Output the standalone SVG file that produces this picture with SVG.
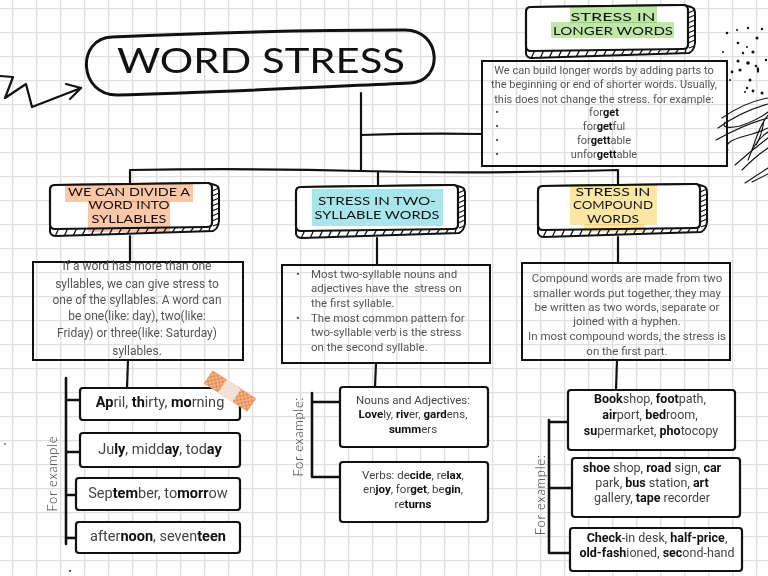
<svg xmlns="http://www.w3.org/2000/svg" width="768" height="576" viewBox="0 0 768 576">
<defs>
<pattern id="grid" x="12" y="8" width="24" height="24" patternUnits="userSpaceOnUse">
<path d="M0.7,0 V24 M0,0.7 H24" stroke="#e0e0e0" stroke-width="1.3" fill="none"/>
</pattern>
<pattern id="check" width="5" height="5" patternUnits="userSpaceOnUse">
<rect width="5" height="5" fill="#e58c55"/>
<rect width="2.5" height="2.5" fill="#f3b98f"/>
<rect x="2.5" y="2.5" width="2.5" height="2.5" fill="#f3b98f"/>
</pattern>
<g id="slab">
<path d="M8,2 L161,0 L168,2 Q172,3 172,8 L172,38 Q171,46 166,48 L9,53 Q4,53 3,49 L3,7 Q3,2 8,2 Z" fill="#fff" stroke="#111" stroke-width="2" stroke-linejoin="round"/>
<path d="M3,7 Q3,2 8,2 L160,0 Q165,0 165,5 L165,40 Q165,44 160,44 L8,46 Q3,46 3,41 Z" fill="#fff" stroke="#111" stroke-width="2.2" stroke-linejoin="round"/>
<path d="M11.5,46 L8.5,52.6 M20.5,45.8 L17.5,52.4 M29.5,45.7 L26.5,52.1 M38.5,45.6 L35.5,51.9 M47.5,45.5 L44.5,51.6 M56.5,45.3 L53.5,51.4 M65.5,45.2 L62.5,51.1 M74.5,45.1 L71.5,50.8 M83.5,45 L80.5,50.6 M92.5,44.9 L89.5,50.3 M101.5,44.8 L98.5,50 M110.5,44.7 L107.5,49.8 M119.5,44.6 L116.5,49.5 M128.5,44.5 L125.5,49.2 M137.5,44.4 L134.5,49 M146.5,44.3 L143.5,48.7 M155.5,44.2 L152.5,48.4 M163,44 L162,48 M165,8 L172,5 M165,13 L172,10 M165,18 L172,15 M165,23 L172,20 M165,28 L172,25 M165,33 L172,30 M165,38 L172,35 M166,43 L171,41" stroke="#111" stroke-width="1.3" fill="none"/>
</g>
</defs>
<style>
.ln{fill:none;stroke:#111;stroke-width:2.2;stroke-linecap:round;stroke-linejoin:round}
.br{fill:none;stroke:#111;stroke-width:2.6;stroke-linecap:round;stroke-linejoin:round}
.box{fill:#fff;stroke:#111;stroke-width:2.2}
.dbox{fill:none;stroke:#111;stroke-width:2}
.hl{mix-blend-mode:multiply}
.hd{font-family:Lato,"DejaVu Sans",sans-serif;font-size:11.5px;font-weight:400;fill:#111;text-anchor:middle}
.tx{font-family:Roboto,"Liberation Sans",sans-serif;fill:#555;text-anchor:middle}
.ex{font-family:Roboto,"Liberation Sans",sans-serif;fill:#444;text-anchor:middle}
.b{font-weight:700;fill:#111}
.fe{font-family:Lato,"DejaVu Sans",sans-serif;font-weight:300;font-size:13px;fill:#333;text-anchor:middle}
</style>
<rect width="768" height="576" fill="#fff"/>
<rect width="768" height="576" fill="url(#grid)"/>

<g id="decor" fill="#111" stroke="none">
<circle cx="727" cy="33" r="1.3"/><circle cx="737" cy="30" r="1"/><circle cx="748" cy="28" r="1.2"/><circle cx="762" cy="29" r="1.2"/>
<circle cx="723" cy="52" r="1"/><circle cx="738" cy="43" r="1.3"/><circle cx="747" cy="47" r="1"/><circle cx="757" cy="38" r="1.5"/>
<circle cx="743" cy="53" r="1.2"/><circle cx="753" cy="52" r="1.6"/><circle cx="738" cy="61" r="1.5"/><circle cx="748" cy="63" r="1.8"/>
<circle cx="756" cy="66" r="1.3"/><circle cx="732" cy="72" r="1.4"/><circle cx="740" cy="70" r="1.6"/><ellipse cx="758" cy="70" rx="1.2" ry="3"/>
<circle cx="730" cy="80" r="1"/><circle cx="750" cy="80" r="1.5"/><circle cx="747" cy="88" r="1.2"/><circle cx="753" cy="91" r="1.4"/>
<circle cx="762" cy="93" r="1.5"/><circle cx="745" cy="92" r="1"/><circle cx="766" cy="60" r="1.2"/>
<circle cx="70" cy="571" r="1"/><circle cx="5" cy="444" r="0.8"/>
</g>
<g id="scribble" fill="none" stroke="#111" stroke-width="1.1" stroke-linecap="round">
<path d="M722,118 Q745,102 768,98"/>
<path d="M718,128 Q740,112 768,104"/>
<path d="M725,122 Q720,130 740,126 Q758,120 768,112"/>
<path d="M716,140 Q745,124 768,118"/>
<path d="M728,150 Q722,142 745,136 Q760,132 768,128"/>
<path d="M735,165 Q752,150 768,138"/>
<path d="M742,170 Q756,156 768,148"/>
<path d="M748,160 Q755,140 768,132"/>
<path d="M752,150 Q760,125 768,115 M756,145 Q762,135 764,120"/>
<path d="M745,183 L768,168 M752,182 L768,174"/>
</g>

<g id="title">
<polyline class="ln" stroke-width="1.8" points="0,76 13,77 5,98 26,84 32,107 81,88"/>
<polyline class="ln" stroke-width="1.8" points="66,84 81,88 70,99"/>
<path d="M112,37 C200,33 320,30 405,30 C442,30 444,82 410,83 C320,87 200,93 118,95 C78,96 76,38 112,37 Z" fill="none" stroke="#111" stroke-width="3"/>
<text x="117" y="73" font-family="Lato,'DejaVu Sans',sans-serif" font-size="34" fill="#111" textLength="288" lengthAdjust="spacingAndGlyphs">WORD STRESS</text>
</g>

<g id="connectors">
<path class="ln" stroke-width="4" d="M361,93 L361,171"/>
<path class="ln" d="M361,135 Q420,133 482,134"/>
<path class="ln" d="M130,184 L130,170 Q250,168 361,171 Q480,174 618,170 L618,184"/>
<path class="ln" d="M378,172 L378,186"/>
<path class="ln" d="M130,236 L130,262 M128,360 L127,388"/>
<path class="ln" d="M377,238 L377,265 M376,363 L375,387"/>
<path class="ln" d="M618,237 L618,263 M617,360 L616,390"/>
<path class="br" d="M66,378 L66,544 M66,400 H80 M66,452 H80 M66,495 H76 M66,538 H76"/>
<path class="br" d="M312,393 V477 M312,402 H340 M312,477 H340"/>
<path class="br" d="M549,420 V553 M549,422 H568 M549,488 H572 M549,553 H570"/>
</g>

<g id="longer-head">
<use href="#slab" transform="translate(523,5)"/>
<rect class="hl" x="570" y="6" width="87" height="17" fill="#bfe8a8"/>
<rect class="hl" x="551" y="22" width="123" height="16" fill="#bfe8a8"/>
<text class="hd" x="613" y="21" textLength="85" lengthAdjust="spacingAndGlyphs">STRESS IN</text>
<text class="hd" x="613" y="35" textLength="120" lengthAdjust="spacingAndGlyphs">LONGER WORDS</text>
</g>
<g id="longer-text">
<rect class="dbox" x="482" y="61" width="245" height="105"/>
<g class="tx" font-size="11">
<text x="604" y="74">We can build longer words by adding parts to</text>
<text x="604" y="88">the beginning or end of shorter words. Usually,</text>
<text x="604" y="103">this does not change the stress. for example:</text>
<text x="604" y="116">for<tspan class="b">get</tspan></text>
<text x="604" y="130">for<tspan class="b">get</tspan>ful</text>
<text x="604" y="144">for<tspan class="b">gett</tspan>able</text>
<text x="604" y="158">unfor<tspan class="b">gett</tspan>able</text>
<text x="497" y="116">•</text><text x="497" y="130">•</text><text x="497" y="144">•</text><text x="497" y="158">•</text>
</g>
</g>

<g id="divide-head">
<use href="#slab" transform="translate(47,183)"/>
<rect class="hl" x="65" y="184" width="128" height="18" fill="#fbc7a6"/>
<rect class="hl" x="88" y="201" width="82" height="31" fill="#fbc7a6"/>
<text class="hd" x="129" y="195.5" textLength="122" lengthAdjust="spacingAndGlyphs">WE CAN DIVIDE A</text>
<text class="hd" x="129" y="209" textLength="81" lengthAdjust="spacingAndGlyphs">WORD INTO</text>
<text class="hd" x="129" y="222.5" textLength="75" lengthAdjust="spacingAndGlyphs">SYLLABLES</text>
</g>
<g id="divide-text">
<rect class="dbox" x="33" y="262" width="210" height="98"/>
<g class="tx" font-size="12">
<text x="137" y="270">If a word has more than one</text>
<text x="137" y="288">syllables, we can give stress to</text>
<text x="137" y="304">one of the syllables. A word can</text>
<text x="137" y="320">be one(like: day), two(like:</text>
<text x="137" y="337">Friday) or three(like: Saturday)</text>
<text x="137" y="355">syllables.</text>
</g>
</g>
<g id="divide-examples">
<text class="fe" transform="translate(57,474) rotate(-90)" textLength="75">For example</text>
<rect class="box" x="80" y="388" width="160" height="32" rx="3"/>
<rect class="box" x="80" y="433" width="160" height="34" rx="3"/>
<rect class="box" x="76" y="478" width="164" height="32" rx="3"/>
<rect class="box" x="76" y="522" width="164" height="31" rx="3"/>
<g class="ex" font-size="14.5">
<text x="160" y="407"><tspan class="b">Ap</tspan>ril, <tspan class="b">th</tspan>irty, <tspan class="b">mo</tspan>rning</text>
<text x="160" y="454">Ju<tspan class="b">ly</tspan>, midd<tspan class="b">ay</tspan>, tod<tspan class="b">ay</tspan></text>
<text x="158" y="498">Sep<tspan class="b">tem</tspan>ber, to<tspan class="b">morr</tspan>ow</text>
<text x="158" y="541">after<tspan class="b">noon</tspan>, seven<tspan class="b">teen</tspan></text>
</g>
<g transform="translate(230,391) rotate(33)">
<rect x="-26" y="-8" width="52" height="16" fill="url(#check)"/>
<rect x="-9" y="-8" width="17" height="16" fill="#f2f2f2" opacity="0.8"/>
</g>
</g>

<g id="two-head">
<use href="#slab" transform="translate(293,185)"/>
<rect class="hl" x="312" y="189" width="131" height="37" fill="#a8e6ec"/>
<text class="hd" x="377" y="204.5" textLength="118" lengthAdjust="spacingAndGlyphs">STRESS IN TWO-</text>
<text class="hd" x="377" y="218.5" textLength="125" lengthAdjust="spacingAndGlyphs">SYLLABLE WORDS</text>
</g>
<g id="two-text">
<rect class="dbox" x="282" y="265" width="208" height="98"/>
<g class="tx" font-size="11.5" style="text-anchor:start">
<text x="296" y="278">•</text><text x="296" y="322">•</text>
<text x="311" y="278">Most two-syllable nouns and</text>
<text x="311" y="292" xml:space="preserve">adjectives have the  stress on</text>
<text x="311" y="307">the first syllable.</text>
<text x="311" y="322">The most common pattern for</text>
<text x="311" y="336">two-syllable verb is the stress</text>
<text x="311" y="351">on the second syllable.</text>
</g>
</g>
<g id="two-examples">
<text class="fe" transform="translate(303,437) rotate(-90)" textLength="79">For example:</text>
<rect class="box" x="340" y="387" width="148" height="60" rx="3"/>
<rect class="box" x="340" y="462" width="148" height="60" rx="3"/>
<g class="ex" font-size="11.5">
<text x="413" y="404">Nouns and Adjectives:</text>
<text x="413" y="418"><tspan class="b">Love</tspan>ly, <tspan class="b">riv</tspan>er, <tspan class="b">gard</tspan>ens,</text>
<text x="413" y="433"><tspan class="b">summ</tspan>ers</text>
<text x="413" y="479">Verbs: de<tspan class="b">cide</tspan>, re<tspan class="b">lax</tspan>,</text>
<text x="413" y="493">en<tspan class="b">joy</tspan>, for<tspan class="b">get</tspan>, be<tspan class="b">gin</tspan>,</text>
<text x="413" y="508">re<tspan class="b">turns</tspan></text>
</g>
</g>

<g id="compound-head">
<use href="#slab" transform="translate(535,184)"/>
<rect class="hl" x="570" y="184" width="87" height="41" fill="#fce6a4"/>
<rect class="hl" x="584" y="224" width="60" height="8" fill="#fce6a4"/>
<text class="hd" x="613" y="195.5" textLength="75" lengthAdjust="spacingAndGlyphs">STRESS IN</text>
<text class="hd" x="613" y="209" textLength="80" lengthAdjust="spacingAndGlyphs">COMPOUND</text>
<text class="hd" x="613" y="222.5" textLength="52" lengthAdjust="spacingAndGlyphs">WORDS</text>
</g>
<g id="compound-text">
<rect class="dbox" x="522" y="263" width="208" height="97"/>
<g class="tx" font-size="11.5">
<text x="627" y="282">Compound words are made from two</text>
<text x="627" y="297">smaller words put together, they may</text>
<text x="627" y="311">be written as two words, separate or</text>
<text x="627" y="325">joined with a hyphen.</text>
<text x="627" y="340">In most compound words, the stress is</text>
<text x="627" y="355">on the first part.</text>
</g>
</g>
<g id="compound-examples">
<text class="fe" transform="translate(545,495) rotate(-90)" textLength="80">For example:</text>
<rect class="box" x="568" y="390" width="167" height="60" rx="3"/>
<rect class="box" x="572" y="458" width="168" height="59" rx="3"/>
<rect class="box" x="570" y="528" width="172" height="43" rx="3"/>
<g class="ex" font-size="12.5">
<text x="650" y="403"><tspan class="b">Book</tspan>shop, <tspan class="b">foot</tspan>path,</text>
<text x="650" y="419"><tspan class="b">air</tspan>port, <tspan class="b">bed</tspan>room,</text>
<text x="651" y="435"><tspan class="b">su</tspan>permarket, <tspan class="b">pho</tspan>tocopy</text>
<text x="652" y="472"><tspan class="b">shoe</tspan> shop, <tspan class="b">road</tspan> sign, <tspan class="b">car</tspan></text>
<text x="652" y="487">park, <tspan class="b">bus</tspan> station, <tspan class="b">art</tspan></text>
<text x="652" y="502">gallery, <tspan class="b">tape</tspan> recorder</text>
<text x="657" y="542"><tspan class="b">Check</tspan>-in desk, <tspan class="b">half-price</tspan>,</text>
<text x="657" y="557"><tspan class="b">old-fash</tspan>ioned, <tspan class="b">sec</tspan>ond-hand</text>
</g>
</g>
</svg>
